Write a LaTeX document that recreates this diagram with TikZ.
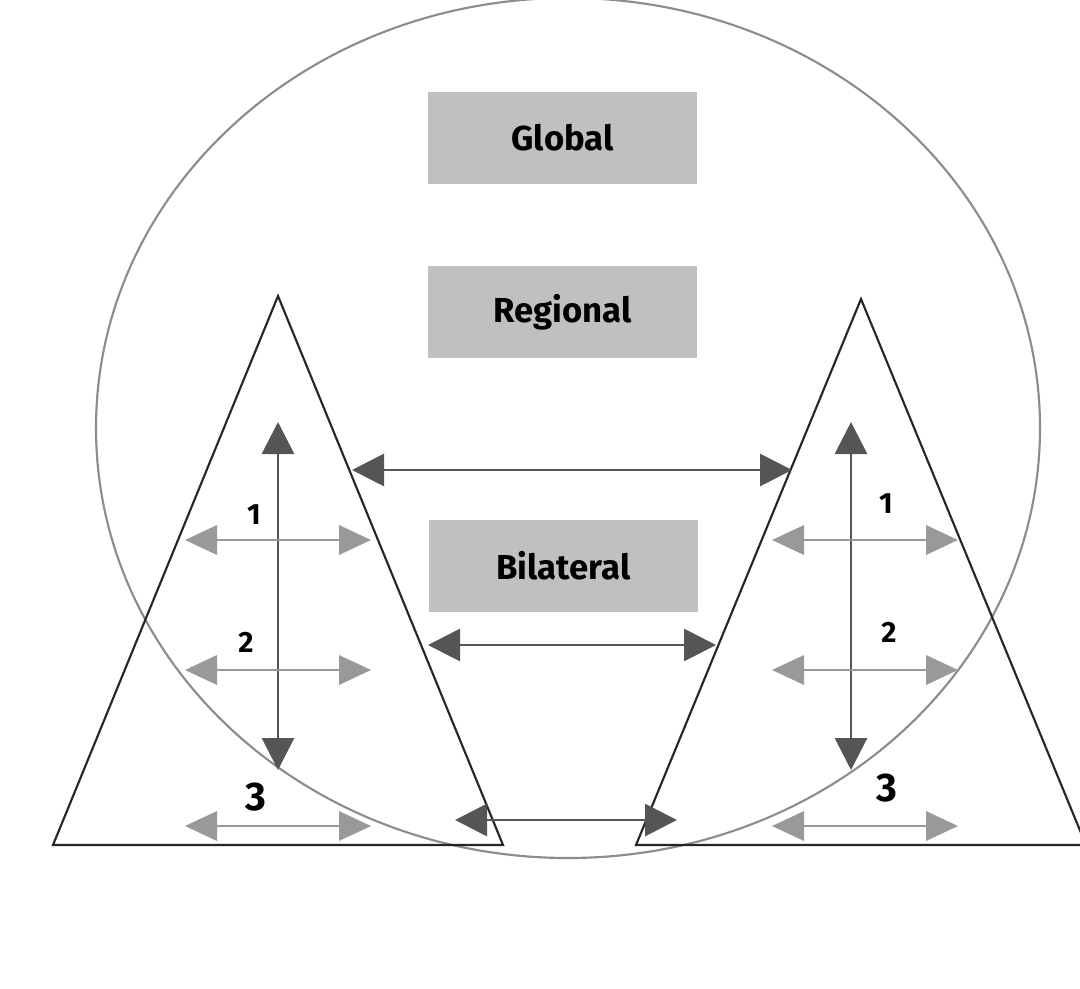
\documentclass[tikz,border=0pt]{standalone}
\usepackage{fontspec}
\setmainfont{Fira Sans}
\usetikzlibrary{arrows.meta}
\definecolor{dk}{HTML}{555555}
\definecolor{lt}{HTML}{999999}
\definecolor{bx}{HTML}{C0C0C0}
\begin{document}
\begin{tikzpicture}[x=0.75pt,y=-0.75pt,
 lbl/.style={fill=bx,minimum width=269*0.75pt,minimum height=92*0.75pt,font=\fontsize{26}{30}\selectfont\bfseries},
 darr/.style={draw=dk,line width=2.2pt,{Triangle[length=24pt,width=24pt]}-{Triangle[length=24pt,width=24pt]}},
 larr/.style={draw=lt,line width=1.8pt,{Triangle[length=24pt,width=22pt]}-{Triangle[length=24pt,width=22pt]}},
 num/.style={font=\fontsize{22}{26}\selectfont\bfseries}]
\useasboundingbox (0,0) rectangle (1080,988);
\begin{scope}
\clip (0,0) rectangle (1080,988);
\draw[draw=gray!90,line width=1.6pt] (568,428) ellipse [x radius=472, y radius=430];
\draw[line width=1.6pt,draw=black!85] (53,845) coordinate (la) -- (278,296) coordinate (lt) -- (503,845) coordinate (lb) -- cycle;
\draw[line width=1.6pt,draw=black!85] (636,845) coordinate (ra) -- (861,299) coordinate (rt) -- (1086,845) coordinate (rb) -- cycle;
\end{scope}
\node[lbl] (g) at (562.5,138) {Global};
\node[lbl] (r) at (562.5,312) {Regional};
\node[lbl] (b) at (563.5,566) {Bilateral};
\coordinate (lv1) at (278,422); \coordinate (lv2) at (278,770);
\coordinate (rv1) at (851,422); \coordinate (rv2) at (851,770);
\draw[darr] (lv1) -- (lv2);
\draw[darr] (rv1) -- (rv2);
\coordinate (h1a) at (352,470); \coordinate (h1b) at (792,470);
\coordinate (h2a) at (428,645); \coordinate (h2b) at (716,645);
\coordinate (h3a) at (455,820); \coordinate (h3b) at (677,820);
\draw[darr] (h1a) -- (h1b);
\draw[darr] (h2a) -- (h2b);
\draw[darr] (h3a) -- (h3b);
\foreach \y in {540,670,826}{
 \coordinate (a\y) at (185,\y); \coordinate (b\y) at (371,\y);
 \coordinate (c\y) at (772,\y); \coordinate (d\y) at (958,\y);
 \draw[larr] (a\y) -- (b\y);
 \draw[larr] (c\y) -- (d\y);
}
\node[num] (n1) at (254,515) {1};
\node[num] (n2) at (246,642) {2};
\node[num,font=\fontsize{30}{34}\selectfont\bfseries] (n3) at (256,797) {3};
\node[num] (m1) at (886,504) {1};
\node[num] (m2) at (889,632) {2};
\node[num,font=\fontsize{30}{34}\selectfont\bfseries] (m3) at (887,788) {3};
\end{tikzpicture}
\end{document}
